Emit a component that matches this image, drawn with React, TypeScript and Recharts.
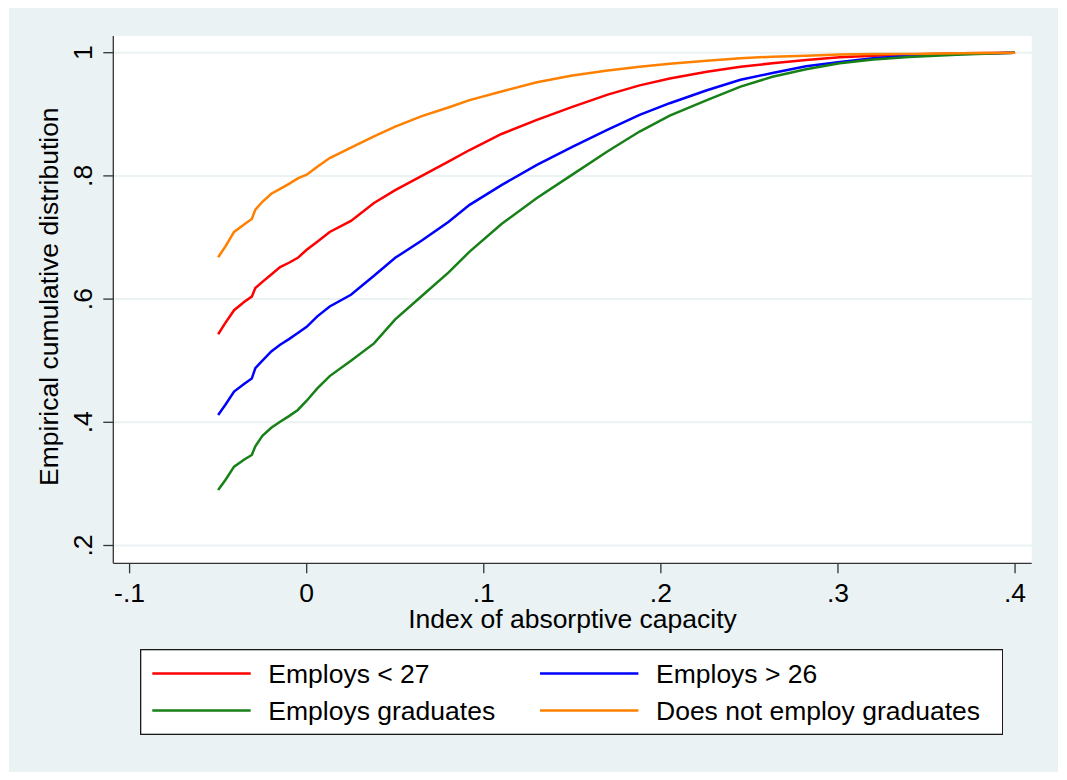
import React from 'react';
import { LineChart, Line, XAxis, YAxis, CartesianGrid, Legend, Label } from 'recharts';

// Index of absorptive capacity (x grid)
const xValues = [
  -0.05, -0.046, -0.041, -0.035, -0.031, -0.029, -0.025, -0.02, -0.015, -0.01, -0.005, 0,
  0.006, 0.013, 0.025, 0.038, 0.05, 0.065, 0.08, 0.092, 0.11, 0.13, 0.15, 0.17, 0.188,
  0.205, 0.226, 0.245, 0.263, 0.282, 0.301, 0.32, 0.34, 0.37, 0.4,
];

// Empirical cumulative distribution for each group
const employsUnder27 = [
  0.543, 0.561, 0.582, 0.596, 0.604, 0.618, 0.628, 0.64, 0.652, 0.659, 0.667, 0.68,
  0.693, 0.709, 0.727, 0.756, 0.777, 0.8, 0.823, 0.842, 0.868, 0.891, 0.912, 0.932, 0.947,
  0.958, 0.969, 0.977, 0.983, 0.988, 0.9925, 0.995, 0.997, 0.999, 1.0,
];
const employsOver26 = [
  0.412, 0.428, 0.45, 0.463, 0.471, 0.488, 0.5, 0.515, 0.526, 0.535, 0.545, 0.555,
  0.572, 0.588, 0.607, 0.638, 0.667, 0.695, 0.725, 0.753, 0.785, 0.818, 0.847, 0.875, 0.899,
  0.918, 0.939, 0.956, 0.967, 0.978, 0.985, 0.991, 0.995, 0.998, 1.0,
];
const employsGraduates = [
  0.29, 0.306, 0.328, 0.34, 0.347, 0.361, 0.378, 0.391, 0.401, 0.41, 0.42, 0.435,
  0.455, 0.475, 0.5, 0.528, 0.567, 0.605, 0.643, 0.677, 0.722, 0.764, 0.802, 0.84, 0.872,
  0.898, 0.923, 0.945, 0.961, 0.973, 0.983, 0.989, 0.993, 0.997, 1.0,
];
const notEmployGraduates = [
  0.668, 0.685, 0.709, 0.722, 0.73, 0.745, 0.758, 0.771, 0.779, 0.787, 0.796, 0.802,
  0.815, 0.829, 0.846, 0.864, 0.88, 0.897, 0.911, 0.923, 0.937, 0.952, 0.963, 0.971, 0.977,
  0.982, 0.987, 0.991, 0.9935, 0.995, 0.997, 0.998, 0.998, 0.999, 1.0,
];

const seriesKeys = ['under27', 'over26', 'graduates', 'noGraduates'];
const seriesNames = ['Employs < 27', 'Employs > 26', 'Employs graduates', 'Does not employ graduates'];
const seriesColors = ['#ff0000', '#0000ff', '#178017', '#ff8000'];

const xTicks = [-0.1, 0, 0.1, 0.2, 0.3, 0.4];
const xTickLabels = ['-.1', '0', '.1', '.2', '.3', '.4'];
const yTicks = [0.2, 0.4, 0.6, 0.8, 1];
const yTickLabels = ['.2', '.4', '.6', '.8', '1'];

const xTitle = 'Index of absorptive capacity';
const yTitle = 'Empirical cumulative distribution';

const data = xValues.map((x, i) => ({
  x,
  under27: employsUnder27[i],
  over26: employsOver26[i],
  graduates: employsGraduates[i],
  noGraduates: notEmployGraduates[i],
}));

const FONT = '"Liberation Sans", Arial, Helvetica, sans-serif';
const FS = 26.5;
const AXIS_COLOR = '#333333';
const BG = '#EAF2F3';

const labelFor = (ticks: number[], labels: string[], v: number) => {
  const idx = ticks.findIndex((t) => Math.abs(t - v) < 1e-9);
  return idx >= 0 ? labels[idx] : String(v);
};

const XTick = (props: any) => {
  const { x, y, payload } = props;
  return (
    <text x={x} y={y + 27} textAnchor="middle" fontSize={FS} fontFamily={FONT} fill="#000">
      {labelFor(xTicks, xTickLabels, payload.value)}
    </text>
  );
};

const YTick = (props: any) => {
  const { x, y, payload } = props;
  const bx = x - 9.6;
  return (
    <text
      x={bx}
      y={y}
      transform={`rotate(-90, ${bx}, ${y})`}
      textAnchor="middle"
      fontSize={FS}
      fontFamily={FONT}
      fill="#000"
    >
      {labelFor(yTicks, yTickLabels, payload.value)}
    </text>
  );
};

const XTitle = (props: any) => {
  const vb = props.viewBox || {};
  return (
    <text x={vb.x + vb.width / 2} y={vb.y + 64.4} textAnchor="middle" fontSize={FS} fontFamily={FONT} fill="#000">
      {xTitle}
    </text>
  );
};

const YTitle = (props: any) => {
  const vb = props.viewBox || {};
  const bx = 49.5;
  const cy = vb.y + vb.height / 2 - 3;
  return (
    <text
      x={bx}
      y={cy}
      transform={`rotate(-90, ${bx}, ${cy})`}
      textAnchor="middle"
      fontSize={FS}
      fontFamily={FONT}
      fill="#000"
    >
      {yTitle}
    </text>
  );
};

const LEG_W = 863.3;
const LEG_H = 86;

const renderLegend = () => {
  const cols = [0, 387.7];
  const rows = [
    { line: 24.5, text: 34.3 },
    { line: 61.5, text: 71.3 },
  ];
  return (
    <svg width={LEG_W} height={LEG_H} style={{ display: 'block' }}>
      <rect x={0.65} y={0.65} width={LEG_W - 1.3} height={LEG_H - 1.3} fill="#fff" stroke="#1a1a1a" strokeWidth={1.3} />
      {seriesNames.map((name, i) => {
        const c = cols[i % 2];
        const r = rows[Math.floor(i / 2)];
        return (
          <g key={name}>
            <line x1={c + 12.3} x2={c + 110.7} y1={r.line} y2={r.line} stroke={seriesColors[i]} strokeWidth={2.4} />
            <text x={c + 128.3} y={r.text} fontSize={FS} fontFamily={FONT} fill="#000">
              {name}
            </text>
          </g>
        );
      })}
    </svg>
  );
};

export default function App() {
  return (
    <div style={{ marginLeft: 1, width: 1049, height: 764, background: BG, fontFamily: FONT, position: 'relative' }}>
      <LineChart
        width={1049}
        height={764}
        data={data}
        margin={{ top: 28, right: 26.3, left: 0, bottom: 128.7 }}
      >
        <CartesianGrid vertical={false} fill="#ffffff" stroke={BG} strokeWidth={2} horizontalValues={yTicks} />
        <XAxis
          dataKey="x"
          type="number"
          domain={[-0.1092, 0.4094]}
          allowDataOverflow
          ticks={xTicks}
          interval={0}
          height={80}
          tickSize={10}
          axisLine={{ stroke: AXIS_COLOR, strokeWidth: 1.3 }}
          tickLine={{ stroke: AXIS_COLOR, strokeWidth: 1.3 }}
          tick={<XTick />}
        >
          <Label content={<XTitle />} />
        </XAxis>
        <YAxis
          type="number"
          domain={[0.1711, 1.0271]}
          allowDataOverflow
          ticks={yTicks}
          interval={0}
          width={104.3}
          tickSize={10}
          axisLine={{ stroke: AXIS_COLOR, strokeWidth: 1.3 }}
          tickLine={{ stroke: AXIS_COLOR, strokeWidth: 1.3 }}
          tick={<YTick />}
        >
          <Label content={<YTitle />} />
        </YAxis>
        {seriesKeys.map((k, i) => (
          <Line
            key={k}
            dataKey={k}
            name={seriesNames[i]}
            type="linear"
            stroke={seriesColors[i]}
            strokeWidth={2.5}
            dot={false}
            activeDot={false}
            isAnimationActive={false}
          />
        ))}
        <Legend
          layout="vertical"
          verticalAlign="middle"
          align="center"
          wrapperStyle={{ position: 'absolute', left: 131, top: 641, width: LEG_W, height: LEG_H }}
          content={renderLegend}
        />
      </LineChart>
    </div>
  );
}
